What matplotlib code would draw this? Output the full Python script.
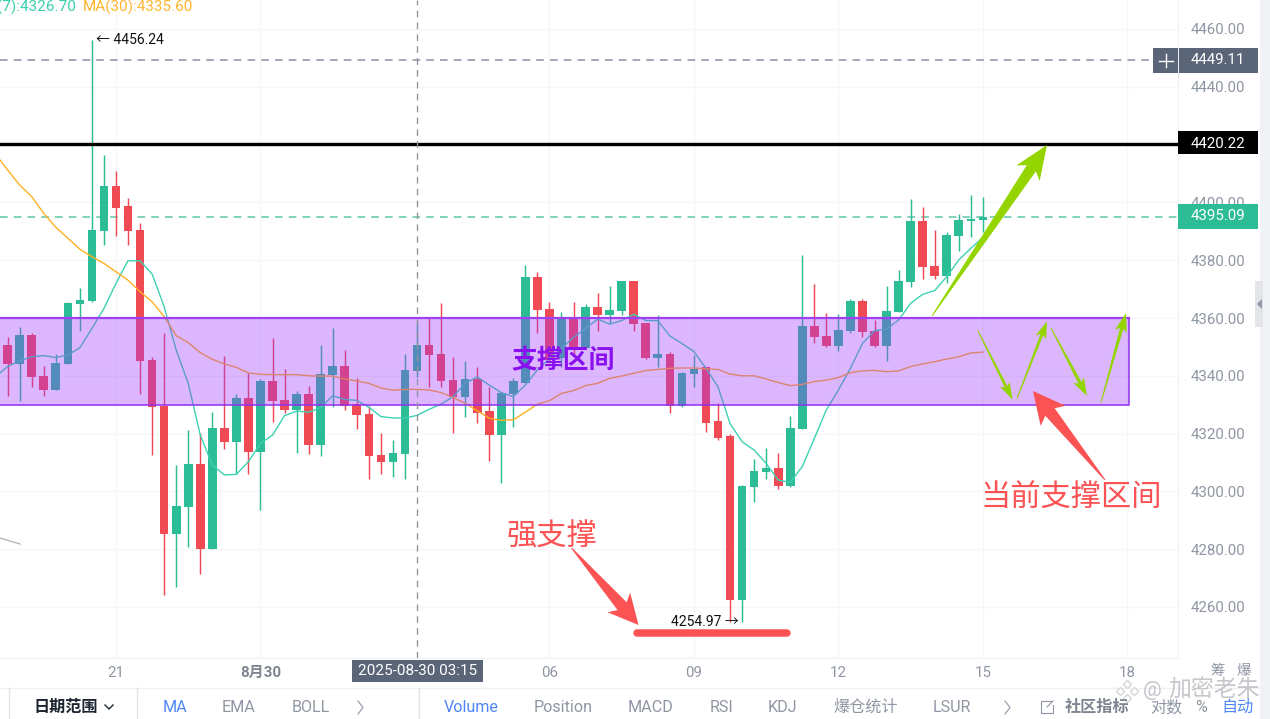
import numpy as np
import matplotlib
matplotlib.use("Agg")
import matplotlib.pyplot as plt
from matplotlib.patches import Polygon, Rectangle

plt.rcParams['font.family'] = ['Roboto', 'Noto Sans CJK SC', 'DejaVu Sans']

# candles, first one is just off the left edge
first_idx = -10
opens = [4356.2, 4350.7, 4344.2, 4354.1, 4339.8, 4335.1, 4344.2, 4365.0, 4365.9, 4390.1,
         4405.6, 4398.6, 4390.4, 4345.5, 4329.5, 4285.4, 4294.5, 4309.5, 4280.2, 4322.1,
         4317.0, 4332.4, 4313.5, 4338.2, 4331.6, 4328.2, 4333.7, 4316.1, 4340.3, 4343.4,
         4330.2, 4326.8, 4312.6, 4310.1, 4313.1, 4341.8, 4350.7, 4347.5, 4338.5, 4332.5,
         4338.9, 4327.7, 4319.6, 4333.7, 4337.6, 4374.3, 4363.0, 4346.0, 4360.1, 4349.5,
         4363.9, 4361.0, 4362.4, 4372.7, 4358.4, 4346.3, 4347.5, 4329.7, 4340.6, 4342.9,
         4324.2, 4319.2, 4262.4, 4301.4, 4306.6, 4308.2, 4301.9, 4321.7, 4357.2, 4353.8,
         4350.3, 4355.5, 4365.8, 4355.4, 4350.3, 4362.0, 4372.3, 4393.5, 4377.9, 4374.5,
         4388.4, 4393.6, 4393.9]
closes = [4350.3, 4344.2, 4354.1, 4339.5, 4335.1, 4344.5, 4365.3, 4366.2, 4390.4, 4405.6,
          4398.2, 4390.1, 4345.1, 4329.1, 4285.4, 4294.8, 4309.5, 4280.2, 4322.1, 4317.0,
          4332.4, 4313.5, 4338.2, 4331.4, 4328.2, 4333.7, 4316.1, 4340.6, 4343.4, 4329.5,
          4326.4, 4312.4, 4310.1, 4313.4, 4342.0, 4350.7, 4347.2, 4338.2, 4332.5, 4338.9,
          4327.2, 4319.6, 4334.2, 4338.2, 4374.3, 4362.8, 4345.5, 4360.1, 4349.0, 4363.9,
          4361.0, 4362.8, 4372.7, 4358.0, 4346.3, 4347.5, 4329.7, 4341.1, 4342.2, 4323.8,
          4318.6, 4262.4, 4301.9, 4306.9, 4308.2, 4301.9, 4321.9, 4357.1, 4353.3, 4350.3,
          4355.8, 4365.8, 4355.0, 4350.3, 4362.3, 4372.7, 4393.5, 4377.5, 4374.5, 4388.7,
          4393.9, 4394.3, 4395.09]
highs = [4358.0, 4353.5, 4356.8, 4354.7, 4343.4, 4347.5, 4365.5, 4370.4, 4456.24, 4416.5,
         4410.9, 4401.4, 4392.8, 4346.4, 4354.8, 4309.2, 4321.3, 4320.3, 4327.5, 4347.0,
         4333.7, 4340.8, 4338.8, 4353.1, 4342.2, 4334.6, 4336.6, 4350.7, 4356.6, 4348.9,
         4339.1, 4329.5, 4320.2, 4317.9, 4347.4, 4359.0, 4359.9, 4365.3, 4346.4, 4345.1,
         4342.9, 4336.2, 4334.5, 4339.2, 4378.5, 4375.8, 4365.5, 4362.2, 4365.5, 4364.7,
         4368.8, 4371.2, 4372.7, 4372.7, 4358.4, 4361.0, 4348.3, 4341.4, 4347.1, 4342.9,
         4330.7, 4319.9, 4302.2, 4311.2, 4314.9, 4313.4, 4326.2, 4381.9, 4371.8, 4361.7,
         4361.3, 4366.5, 4366.5, 4359.2, 4371.1, 4376.5, 4401.2, 4398.5, 4390.5, 4389.9,
         4396.0, 4402.7, 4402.0]
lows = [4349.0, 4333.0, 4331.4, 4336.2, 4333.1, 4335.1, 4344.2, 4355.5, 4365.4, 4385.3,
        4388.4, 4385.3, 4333.8, 4312.5, 4264.3, 4267.0, 4280.9, 4271.5, 4280.0, 4314.6,
        4305.9, 4306.1, 4293.6, 4324.1, 4327.0, 4313.4, 4313.0, 4312.2, 4329.3, 4328.2,
        4321.5, 4304.2, 4306.1, 4305.1, 4304.4, 4339.7, 4336.0, 4336.2, 4320.3, 4325.9,
        4323.8, 4310.6, 4303.0, 4322.4, 4337.6, 4354.9, 4344.3, 4343.0, 4347.0, 4349.5,
        4355.5, 4357.9, 4361.0, 4355.5, 4345.9, 4342.9, 4327.2, 4329.3, 4336.0, 4320.7,
        4317.8, 4254.97, 4254.9, 4296.4, 4304.2, 4300.7, 4301.4, 4321.7, 4351.2, 4350.1,
        4348.6, 4354.7, 4353.5, 4349.8, 4345.1, 4362.0, 4370.8, 4373.4, 4373.4, 4372.2,
        4383.3, 4387.9, 4389.9]

ma7 = [4339.7, 4343.2, 4345.2, 4346.6, 4347.0, 4346.3, 4347.2, 4349.7, 4356.4, 4363.3,
       4372.0, 4379.8, 4379.8, 4375.2, 4363.9, 4348.9, 4337.4, 4319.5, 4309.1, 4305.7,
       4305.9, 4310.3, 4316.6, 4319.5, 4326.2, 4327.8, 4327.4, 4329.0, 4333.1, 4331.8,
       4331.5, 4329.1, 4325.9, 4325.4, 4325.4, 4326.3, 4328.4, 4330.2, 4332.8, 4337.4,
       4339.6, 4336.8, 4334.2, 4332.8, 4336.8, 4342.0, 4346.0, 4349.5, 4353.3, 4356.4,
       4359.6, 4357.9, 4359.1, 4361.3, 4359.1, 4359.1, 4353.8, 4351.2, 4348.4, 4342.6,
       4336.2, 4323.5, 4317.2, 4314.3, 4309.7, 4303.9, 4303.1, 4308.6, 4318.3, 4328.2,
       4335.1, 4342.6, 4351.2, 4355.6, 4356.2, 4359.3, 4365.1, 4368.2, 4369.5, 4374.3,
       4380.1, 4384.1, 4387.9]
ma30 = [4416.7, 4411.2, 4406.0, 4402.0, 4396.2, 4391.4, 4387.6, 4383.8, 4381.2, 4378.9,
        4376.0, 4373.1, 4369.1, 4365.6, 4360.5, 4353.9, 4351.5, 4348.0, 4345.7, 4344.1,
        4342.9, 4341.0, 4340.5, 4340.4, 4340.4, 4340.4, 4340.0, 4339.9, 4339.9, 4338.9,
        4338.2, 4337.4, 4335.8, 4335.0, 4335.3, 4335.3, 4335.1, 4334.2, 4332.5, 4330.5,
        4327.9, 4325.3, 4324.6, 4324.8, 4327.4, 4330.2, 4331.4, 4333.9, 4334.9, 4336.6,
        4337.4, 4339.1, 4339.9, 4340.9, 4341.8, 4342.2, 4342.6, 4342.7, 4342.7, 4342.4,
        4342.2, 4340.6, 4340.0, 4340.0, 4338.9, 4337.7, 4336.6, 4337.0, 4338.0, 4338.5,
        4339.4, 4341.1, 4341.7, 4341.9, 4341.4, 4341.7, 4343.2, 4344.1, 4344.9, 4345.8,
        4346.6, 4347.9, 4348.2]

price_ticks = [4260, 4280, 4300, 4320, 4340, 4360, 4380, 4400, 4420, 4440, 4460]
time_ticks = [0, 12, 36, 48, 60, 72, 84]
time_labels = ['21', '8月30', '06', '09', '12', '15', '18']
zone_low, zone_high = 4330, 4360
resistance = 4420.22
last_price = 4395.09
cross_price = 4449.11
cross_idx = 25
high_mark = 4456.24
low_mark = 4254.97

GREEN = '#2DBD96'
RED = '#F04B55'
GREY = '#8F96A3'
TAG = '#5A6678'
ARROW_GREEN = '#94D500'
ARROW_RED = '#FB5253'

fig = plt.figure(figsize=(12.7, 7.19), dpi=100, facecolor='white')
ax = fig.add_axes([0, 61 / 719, 1178 / 1270, 658 / 719])
ax.set_xlim(-116 / 12.04, (1178 - 116) / 12.04)
ax.set_ylim(4460 - 629 / 2.89, 4460 + 29 / 2.89)

idx = np.arange(first_idx, first_idx + len(opens))
op, cl, hi, lo = map(np.array, (opens, closes, highs, lows))
cols = np.where(cl >= op, GREEN, RED)
ax.vlines(idx, lo, hi, colors=cols, lw=1.05, zorder=3)
ax.bar(idx, np.abs(cl - op), bottom=np.minimum(op, cl), width=0.72, color=cols, lw=0, zorder=4)
ax.plot(idx, ma7, color='#3CD2B2', lw=1.0, zorder=5)
ax.plot(idx, ma30, color='#FFB020', lw=1.0, zorder=5)

# support zone goes over the candles and tints them
x_left = ax.get_xlim()[0]
zone_right = (1129 - 116) / 12.04
ax.add_patch(Rectangle((x_left - 1, zone_low), zone_right - x_left + 1, zone_high - zone_low,
                       facecolor='#9B32FF', alpha=0.35, lw=0, zorder=6))
ax.add_patch(Rectangle((x_left - 1, zone_low), zone_right - x_left + 1, zone_high - zone_low,
                       facecolor='none', edgecolor='#9030F0', lw=1.1, zorder=6))
ax.plot([x_left, zone_right], [zone_high, zone_high], color='#A040F5', lw=1.6, zorder=6)

ax.axhline(resistance, color='black', lw=2.4, zorder=7)
ax.axhline(last_price, color='#5CC8A8', lw=1.1, dashes=(5, 4), zorder=2)
ax.axhline(cross_price, color='#8A8FA5', lw=1.1, dashes=(5, 4), zorder=2)
ax.axvline(cross_idx, color='#8E939C', lw=0.95, dashes=(5, 4), zorder=7)

ax.set_yticks(price_ticks)
ax.set_yticklabels(['%.2f' % p for p in price_ticks])
ax.set_xticks(time_ticks)
ax.set_xticklabels(time_labels)
ax.yaxis.tick_right()
ax.tick_params(axis='y', length=0, pad=9.4, labelsize=10.8, labelcolor=GREY)
ax.tick_params(axis='x', length=0, pad=6.0, labelsize=10.8, labelcolor=GREY)
ax.get_xticklabels()[1].set_fontweight('bold')
ax.get_xticklabels()[1].set_color('#7F8590')
ax.grid(True, color='#F6F6F8', lw=1.0, zorder=0)
ax.set_axisbelow(True)
for s in ['top', 'left']:
    ax.spines[s].set_visible(False)
for s in ['right', 'bottom']:
    ax.spines[s].set_color('#F0F1F4')

ax.annotate('← %.2f' % high_mark, (-2, high_mark), xytext=(3, 0), textcoords='offset points',
            va='center', ha='left', fontsize=10, color='#111111', zorder=9)
ax.annotate('%.2f →' % low_mark, (51, low_mark), xytext=(6.5, 0), textcoords='offset points',
            va='center', ha='right', fontsize=10, color='#111111', zorder=9)

# everything else sits in pixel coordinates on a full figure overlay
ov = fig.add_axes([0, 0, 1, 1], zorder=10)
ov.set_xlim(0, 1270)
ov.set_ylim(719, 0)
ov.axis('off')
ov.patch.set_alpha(0)


def arrow(x0, y0, x1, y1, tail, neck, head_w, head_l, notch, color):
    d = np.array([x1 - x0, y1 - y0], dtype=float)
    length = np.hypot(*d)
    d = d / length
    n = np.array([-d[1], d[0]])
    tip = np.array([x1, y1], dtype=float)
    start = np.array([x0, y0], dtype=float)
    base = tip - d * head_l
    inner = tip - d * (head_l - notch)
    pts = [start + n * tail / 2, inner + n * neck / 2, base + n * head_w / 2, tip,
           base - n * head_w / 2, inner - n * neck / 2, start - n * tail / 2]
    ov.add_patch(Polygon(pts, closed=True, facecolor=color, edgecolor='none'))


arrow(932, 316, 1047, 145, 1, 11, 28, 34, 6, ARROW_GREEN)
arrow(978, 331, 1012.5, 399.5, 1, 3, 11, 17, 3, ARROW_GREEN)
arrow(1017, 398.5, 1047, 321.5, 1, 3, 11, 17, 3, ARROW_GREEN)
arrow(1051, 328, 1087, 396, 1, 3.5, 12, 18, 3, ARROW_GREEN)
arrow(1101, 402.5, 1126, 313, 1, 3.5, 12, 19, 3, ARROW_GREEN)
arrow(1105, 480, 1033, 391, 1, 12, 32, 32, 5, ARROW_RED)
arrow(571.5, 548, 638.5, 625, 1, 12, 30, 30, 5, ARROW_RED)
ov.plot([637, 787], [632.5, 632.5], color=ARROW_RED, lw=5.4, solid_capstyle='round')
ov.plot([0, 20], [538, 544], color='#B5B5BC', lw=1.0)

ov.text(563.5, 361, '支撑区间', color='#8A10F0', fontsize=18.6, fontweight='bold', ha='center', va='center')
ov.text(552, 537, '强支撑', color=ARROW_RED, fontsize=21.8, ha='center', va='center')
ov.text(1071, 499, '当前支撑区间', color=ARROW_RED, fontsize=21.8, ha='center', va='center')

ov.text(76, 7, '(7):4326.70', color='#3CCFAE', fontsize=11, ha='right', va='center')
ov.text(83, 7, 'MA(30):4335.60', color='#FFB52E', fontsize=11, ha='left', va='center')

# price tags on the scale
ov.add_patch(Rectangle((1153, 48), 25, 25, color=TAG, lw=0))
ov.plot([1159, 1173], [60.5, 60.5], color='white', lw=1.0)
ov.plot([1166, 1166], [54, 67], color='white', lw=1.0)
ov.add_patch(Rectangle((1179, 48), 79, 25, color=TAG, lw=0))
ov.add_patch(Rectangle((1178, 131), 80, 23, color='black', lw=0))
ov.add_patch(Rectangle((1178, 204), 80, 25, color=GREEN, lw=0))
ov.text(1191, 60.5, '%.2f' % cross_price, color='white', fontsize=10.8, va='center')
ov.text(1191, 144, '%.2f' % resistance, color='white', fontsize=10.8, va='center')
ov.text(1191, 216.5, '%.2f' % last_price, color='white', fontsize=10.8, va='center')

# right edge of the page and the collapse tab
ov.add_patch(Rectangle((1260, 0), 10, 719, color='#F1F2F6', lw=0))
ov.add_patch(Rectangle((1255, 281), 8, 46, color='#E4E5E8', lw=0))
ov.add_patch(Polygon([(1257, 304), (1262, 299), (1262, 309)], color='#8F96A3', lw=0))

# crosshair time label
ov.add_patch(Rectangle((352, 660), 131, 22, color=TAG, lw=0))
ov.text(417.5, 671, '2025-08-30 03:15', color='white', fontsize=11, ha='center', va='center')
ov.text(1218, 671, '筹', color=GREY, fontsize=10.4, ha='center', va='center')
ov.text(1244, 671, '爆', color=GREY, fontsize=10.4, ha='center', va='center')

# toolbar
ov.plot([0, 1260], [688, 688], color='#EEF0F3', lw=1.0)
for sx in [9, 137, 419]:
    ov.plot([sx, sx], [688, 719], color='#E2E4E8', lw=1.0)
BLUE = '#4E86F7'
TOOL = '#8F96A3'
toolbar = [(34, '日期范围', '#1C2430', 'bold'), (163, 'MA', BLUE, 'normal'), (222, 'EMA', TOOL, 'normal'),
           (292, 'BOLL', TOOL, 'normal'), (444, 'Volume', BLUE, 'normal'), (534, 'Position', TOOL, 'normal'),
           (628, 'MACD', TOOL, 'normal'), (710, 'RSI', TOOL, 'normal'), (768, 'KDJ', TOOL, 'normal'),
           (833, '爆仓统计', TOOL, 'normal'), (933, 'LSUR', TOOL, 'normal'), (1065, '社区指标', '#7F8590', 'bold'),
           (1150, '对数', TOOL, 'normal'), (1195, '%', TOOL, 'normal'), (1221, '自动', BLUE, 'normal')]
for tx, label, col, weight in toolbar:
    ov.text(tx, 707.5, label, color=col, fontsize=11.6, fontweight=weight, ha='left', va='center')
ov.plot([105, 109, 113], [705, 709, 705], color='#1C2430', lw=1.0)
for cx in [358, 1005]:
    ov.plot([cx, cx + 5, cx], [701, 707.5, 714], color=TOOL, lw=0.8)
ov.plot([1051, 1041, 1041, 1053, 1053], [701, 701, 713, 713, 705], color=TOOL, lw=0.8)
ov.plot([1047, 1053], [707, 701], color=TOOL, lw=0.8)

# watermark
ov.plot([1127, 1120, 1134, 1127], [684, 691, 691, 698], ls='none', marker='D', ms=4.5,
        mfc='white', mec='#D5D5DA', mew=1.0)
ov.text(1143, 690, '@', color='#C4C4CA', fontsize=15, ha='left', va='center')
ov.text(1168, 690, '加密老朱', color='#BCBCC2', fontsize=16.5, ha='left', va='center', alpha=0.85)

fig.savefig('out.png', dpi=100)
